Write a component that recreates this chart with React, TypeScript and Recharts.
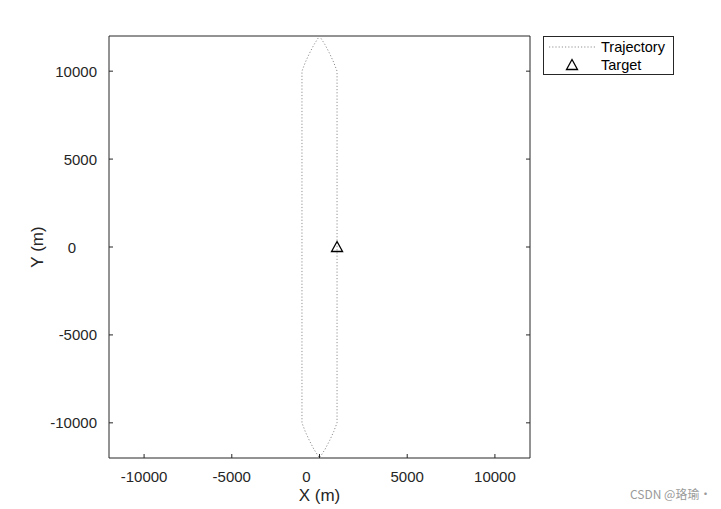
import { ScatterChart, Scatter, XAxis, YAxis } from "recharts";

// ── Data ──────────────────────────────────────────────────────────────────────
const trajX = [
  1000, 1000, 810, 580, 320, 0, -320, -580, -810, -1000,
  -1000, -810, -580, -320, 0, 320, 580, 810, 1000, 1000,
];
const trajY = [
  0, 10000, 10500, 11000, 11500, 12000, 11500, 11000, 10500, 10000,
  -10000, -10500, -11000, -11500, -12000, -11500, -11000, -10500, -10000, 0,
];
const targetX = [1000];
const targetY = [0];

const xTicks = [-10000, -5000, 0, 5000, 10000];
const yTicks = [-10000, -5000, 0, 5000, 10000];
const axisDomain: [number, number] = [-12000, 12000];

const trajectory = trajX.map((x, i) => ({ x, y: trajY[i] }));
const target = targetX.map((x, i) => ({ x, y: targetY[i] }));

// ── Styles ────────────────────────────────────────────────────────────────────
const W = 721;
const H = 509;
const AXIS = "#262626";
const TRAJ = "#909090";
const TRAJ_DASH = "1.2 2";
const FONT = "'Liberation Sans', Arial, Helvetica, sans-serif";
const TICK_LEN = 4;

// ── Ticks (MATLAB style: inside tick marks) ───────────────────────────────────
function BottomTick({ x, y, payload }: any) {
  const v = payload.value;
  const dx = v === 0 ? -13 : 0;
  return (
    <g>
      <line x1={x} y1={y} x2={x} y2={y - TICK_LEN} stroke={AXIS} />
      <text x={x + dx} y={y + 24} textAnchor="middle" fontSize={15} fontFamily={FONT} fill={AXIS}>
        {String(v)}
      </text>
    </g>
  );
}

function LeftTick({ x, y, payload }: any) {
  const v = payload.value;
  const isZero = v === 0;
  return (
    <g>
      <line x1={x} y1={y} x2={x + TICK_LEN} y2={y} stroke={AXIS} />
      <text
        x={isZero ? x - 37 : x - 12}
        y={y + 5.5}
        textAnchor={isZero ? "middle" : "end"}
        fontSize={15}
        fontFamily={FONT}
        fill={AXIS}
      >
        {String(v)}
      </text>
    </g>
  );
}

function TopTick({ x, y }: any) {
  return <line x1={x} y1={y} x2={x} y2={y + TICK_LEN} stroke={AXIS} />;
}

function RightTick({ x, y }: any) {
  return <line x1={x} y1={y} x2={x - TICK_LEN} y2={y} stroke={AXIS} />;
}

// ── Markers ───────────────────────────────────────────────────────────────────
function Triangle({ cx, cy }: any) {
  if (cx == null || cy == null) return <g />;
  return (
    <path
      d={`M${cx},${cy - 5.5} L${cx + 5.5},${cy + 4.5} L${cx - 5.5},${cy + 4.5} Z`}
      fill="none"
      stroke="#000"
      strokeWidth={1.3}
      strokeLinejoin="miter"
    />
  );
}

function NoShape() {
  return <g />;
}

// ── Legend ────────────────────────────────────────────────────────────────────
function ChartLegend() {
  return (
    <svg
      width={132}
      height={40}
      style={{ position: "absolute", left: 543, top: 36, overflow: "visible" }}
    >
      <rect x={0.5} y={0.5} width={130} height={38} fill="#fff" stroke={AXIS} />
      <line x1={6} y1={11} x2={53} y2={11} stroke={TRAJ} strokeDasharray={TRAJ_DASH} />
      <text x={58} y={16} fontSize={14.5} fontFamily={FONT} fill="#000">
        Trajectory
      </text>
      <Triangle cx={29} cy={29} />
      <text x={58} y={34} fontSize={14.5} fontFamily={FONT} fill="#000">
        Target
      </text>
    </svg>
  );
}

// ── Main Component ────────────────────────────────────────────────────────────
export default function App() {
  return (
    <div style={{ position: "absolute", left: 0, top: 0, width: W, height: H, background: "#fff" }}>
      <ScatterChart
        width={W}
        height={H}
        margin={{ top: 35, right: 190, bottom: 50, left: 108 }}
      >
        <XAxis
          xAxisId={0}
          type="number"
          dataKey="x"
          domain={axisDomain}
          ticks={xTicks}
          height={1}
          tickSize={0}
          tickMargin={0}
          tickLine={false}
          axisLine={{ stroke: AXIS }}
          tick={<BottomTick />}
          allowDataOverflow
          label={{
            content: ({ viewBox }: any) => (
              <text
                x={viewBox.x + viewBox.width / 2}
                y={viewBox.y + 43}
                textAnchor="middle"
                fontSize={17}
                fontFamily={FONT}
                fill={AXIS}
              >
                X (m)
              </text>
            ),
          }}
        />
        <XAxis
          xAxisId="top"
          orientation="top"
          type="number"
          domain={axisDomain}
          ticks={xTicks}
          height={1}
          tickSize={0}
          tickMargin={0}
          tickLine={false}
          axisLine={{ stroke: AXIS }}
          tick={<TopTick />}
          allowDataOverflow
        />
        <YAxis
          yAxisId={0}
          type="number"
          dataKey="y"
          domain={axisDomain}
          ticks={yTicks}
          width={1}
          tickSize={0}
          tickMargin={0}
          tickLine={false}
          axisLine={{ stroke: AXIS }}
          tick={<LeftTick />}
          allowDataOverflow
          label={{
            content: ({ viewBox }: any) => {
              const cx = viewBox.x + viewBox.width - 66;
              const cy = viewBox.y + viewBox.height / 2;
              return (
                <text
                  x={cx}
                  y={cy}
                  transform={`rotate(-90 ${cx} ${cy})`}
                  textAnchor="middle"
                  fontSize={17}
                  fontFamily={FONT}
                  fill={AXIS}
                >
                  Y (m)
                </text>
              );
            },
          }}
        />
        <YAxis
          yAxisId="right"
          orientation="right"
          type="number"
          domain={axisDomain}
          ticks={yTicks}
          width={1}
          tickSize={0}
          tickMargin={0}
          tickLine={false}
          axisLine={{ stroke: AXIS }}
          tick={<RightTick />}
          allowDataOverflow
        />

        <Scatter
          name="Trajectory"
          data={trajectory}
          shape={<NoShape />}
          line={{ stroke: TRAJ, strokeWidth: 1, strokeDasharray: TRAJ_DASH }}
          lineType="joint"
          isAnimationActive={false}
        />
        <Scatter
          name="Target"
          data={target}
          shape={<Triangle />}
          isAnimationActive={false}
        />
      </ScatterChart>

      <ChartLegend />

      <div
        style={{
          position: "absolute",
          left: 630,
          top: 485,
          fontSize: 12,
          color: "#9a9a9a",
          fontFamily: "'Noto Sans CJK SC', 'Liberation Sans', sans-serif",
          whiteSpace: "nowrap",
        }}
      >
        CSDN @珞瑜·
      </div>
    </div>
  );
}
